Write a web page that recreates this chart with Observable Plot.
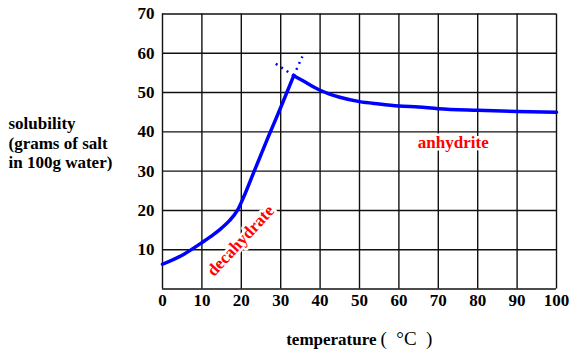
<!DOCTYPE html>
<html>
<head>
<meta charset="utf-8">
<script src="https://cdn.jsdelivr.net/npm/d3@7"></script>
<script src="https://cdn.jsdelivr.net/npm/@observablehq/plot@0.6"></script>
<style>
  html, body { margin: 0; padding: 0; background: #fff; }
  svg { display: block; }
</style>
</head>
<body>
<div id="chart"></div>
<script>
// Decahydrate branch (temperature °C, solubility g / 100 g water)
const decaTemp = [0, 5, 10, 13, 15, 17, 19, 20.6, 23, 27, 30, 33.3];
const decaSol  = [6.3, 8.6, 11.8, 13.9, 15.5, 17.4, 20.0, 23.4, 29.3, 39.1, 46.2, 54.3];
// Anhydrite branch
const anhyTemp = [33.3, 36, 40, 45, 50, 55, 60, 65, 70, 80, 90, 100];
const anhySol  = [54.3, 52.8, 50.6, 48.8, 47.7, 47.1, 46.6, 46.3, 45.9, 45.5, 45.2, 45.0];
// Dotted extensions beyond the transition point
const extAnhyTemp = [33.3, 28.5];
const extAnhySol  = [54.3, 57.5];
const extDecaTemp = [33.3, 35.5];
const extDecaSol  = [54.3, 59.2];
// Ticks
const xTicks = [0, 10, 20, 30, 40, 50, 60, 70, 80, 90, 100];
const yTicks = [10, 20, 30, 40, 50, 60, 70];
const yGrid = [0, 10, 20, 30, 40, 50, 60, 70];
// Text
const yLabel = "solubility\n(grams of salt\nin 100g water)";
const xLabelA = "temperature";
const xLabelB = "(  °C  )";
const phaseLabels = [
  {text: "decahydrate", t: 19.8, s: 12.3, rotate: -47},
  {text: "anhydrite", t: 73.8, s: 37.4, rotate: 0}
];

const toRows = (xs, ys) => xs.map((x, i) => ({t: x, s: ys[i]}));
const deca = toRows(decaTemp, decaSol);
const anhy = toRows(anhyTemp, anhySol);
const ext = [
  ...toRows(extAnhyTemp, extAnhySol).map(d => ({...d, k: "a"})),
  ...toRows(extDecaTemp, extDecaSol).map(d => ({...d, k: "d"}))
];

const serif = "'Liberation Serif', 'Times New Roman', serif";

const chart = Plot.plot({
  width: 580,
  height: 363,
  marginLeft: 162,
  marginRight: 24,
  marginTop: 13.5,
  marginBottom: 74.5,
  style: {fontFamily: serif, background: "#fff", overflow: "visible"},
  x: {domain: [0, 100]},
  y: {domain: [0, 70]},
  marks: [
    Plot.ruleX(xTicks, {stroke: "#111", strokeWidth: 1.4, strokeOpacity: 1}),
    Plot.ruleY(yGrid, {stroke: "#111", strokeWidth: 1.4, strokeOpacity: 1}),
    Plot.axisX({ticks: xTicks, tickSize: 0, tickPadding: 5, tickFormat: d => String(d),
      fontSize: 17, fontWeight: "bold", fill: "#000", label: null}),
    Plot.axisY({ticks: yTicks, tickSize: 0, tickPadding: 8, tickFormat: d => String(d),
      fontSize: 17, fontWeight: "bold", fill: "#000", label: null}),
    Plot.line(ext, {x: "t", y: "s", z: "k", stroke: "#0000ff", strokeWidth: 2.5,
      strokeDasharray: "2,4.5", strokeLinecap: "butt"}),
    Plot.line(deca, {x: "t", y: "s", stroke: "#0000ff", strokeWidth: 3.5, curve: "monotone-x"}),
    Plot.line(anhy, {x: "t", y: "s", stroke: "#0000ff", strokeWidth: 3.5, curve: "monotone-x"}),
    Plot.text(phaseLabels, {x: "t", y: "s", text: "text", rotate: "rotate",
      fill: "#ff0000", stroke: "white", strokeWidth: 5, fontSize: 17, fontWeight: "bold"}),
    Plot.text([yLabel], {frameAnchor: "left", dx: -154, dy: -9, textAnchor: "start",
      lineHeight: 1.15, fontSize: 17, fontWeight: "bold", fill: "#000"}),
    Plot.text([xLabelA], {frameAnchor: "bottom", dx: 17, dy: 56, textAnchor: "end",
      fontSize: 17, fontWeight: "bold", fill: "#000"}),
    Plot.text([xLabelB], {frameAnchor: "bottom", dx: 21, dy: 56, textAnchor: "start",
      fontSize: 19, fill: "#000"})
  ]
});
document.getElementById("chart").appendChild(chart);
</script>
</body>
</html>
